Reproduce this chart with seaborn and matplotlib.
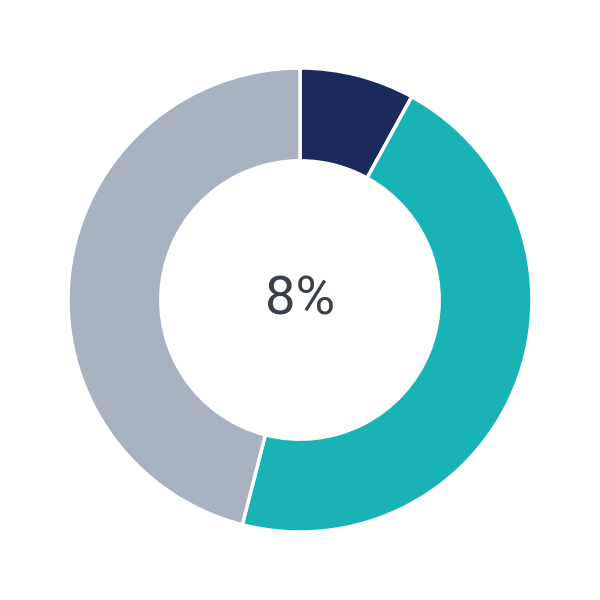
import matplotlib
matplotlib.use("Agg")
import matplotlib.pyplot as plt
import seaborn as sns

# donut data
labels = ["A", "B", "C"]
values = [8, 46, 46]
colors = ["#1b2a5a", "#1ab3b5", "#a8b2c1"]
center_text = "8%"

sns.set_theme(style="white")

fig = plt.figure(figsize=(6, 6), dpi=100)
ax = fig.add_axes([0, 0, 1, 1])
ax.pie(values, colors=colors, startangle=90, counterclock=False,
       radius=1.0, wedgeprops=dict(width=0.4, edgecolor="white", linewidth=2.5))
ax.text(0, 0.0, center_text, ha="center", va="center", fontsize=39,
        color="#3a4049", family=["Roboto", "DejaVu Sans"], fontweight="normal")
lim = 300 / 232
ax.set_xlim(-lim, lim)
ax.set_ylim(-lim, lim)
ax.set_aspect("equal")
ax.axis("off")

fig.savefig("out.png", dpi=100, facecolor="white")
